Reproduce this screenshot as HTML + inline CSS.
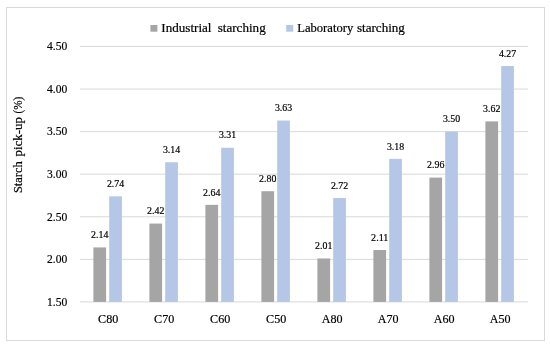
<!DOCTYPE html><html><head><meta charset="utf-8"><title>Starch pick-up</title>
<style>html,body{margin:0;padding:0;background:#fff}svg{display:block}text{font-family:"Liberation Serif","DejaVu Serif",serif;fill:#000}</style></head><body>
<svg width="550" height="347" viewBox="0 0 550 347">
<rect x="0" y="0" width="550" height="347" fill="#fff"/>
<rect x="6.5" y="7.5" width="538" height="333" fill="#fff" stroke="#d9d9d9" stroke-width="1"/>
<rect x="80" y="301.42" width="448" height="1" fill="#d9d9d9"/>
<text x="47.10" y="305.72" font-size="12.8" textLength="20.2" lengthAdjust="spacingAndGlyphs" stroke="#000" stroke-width="0.2">1.50</text>
<rect x="80" y="258.85" width="448" height="1" fill="#d9d9d9"/>
<text x="47.10" y="263.15" font-size="12.8" textLength="20.2" lengthAdjust="spacingAndGlyphs" stroke="#000" stroke-width="0.2">2.00</text>
<rect x="80" y="216.27" width="448" height="1" fill="#d9d9d9"/>
<text x="47.10" y="220.57" font-size="12.8" textLength="20.2" lengthAdjust="spacingAndGlyphs" stroke="#000" stroke-width="0.2">2.50</text>
<rect x="80" y="173.69" width="448" height="1" fill="#d9d9d9"/>
<text x="47.10" y="178.00" font-size="12.8" textLength="20.2" lengthAdjust="spacingAndGlyphs" stroke="#000" stroke-width="0.2">3.00</text>
<rect x="80" y="131.12" width="448" height="1" fill="#d9d9d9"/>
<text x="47.10" y="135.42" font-size="12.8" textLength="20.2" lengthAdjust="spacingAndGlyphs" stroke="#000" stroke-width="0.2">3.50</text>
<rect x="80" y="88.55" width="448" height="1" fill="#d9d9d9"/>
<text x="47.10" y="92.85" font-size="12.8" textLength="20.2" lengthAdjust="spacingAndGlyphs" stroke="#000" stroke-width="0.2">4.00</text>
<rect x="80" y="45.97" width="448" height="1" fill="#d9d9d9"/>
<text x="47.10" y="50.27" font-size="12.8" textLength="20.2" lengthAdjust="spacingAndGlyphs" stroke="#000" stroke-width="0.2">4.50</text>
<rect x="93.4" y="247.42" width="12.7" height="54.50" fill="#a5a5a5"/>
<rect x="109.2" y="196.33" width="12.7" height="105.59" fill="#b4c7e7"/>
<text x="91.10" y="238.00" font-size="10.6" textLength="17.3" lengthAdjust="spacingAndGlyphs" stroke="#000" stroke-width="0.2">2.14</text>
<text x="106.90" y="187.00" font-size="10.6" textLength="17.3" lengthAdjust="spacingAndGlyphs" stroke="#000" stroke-width="0.2">2.74</text>
<text x="98.10" y="323.10" font-size="13.3" textLength="20.2" lengthAdjust="spacingAndGlyphs" stroke="#000" stroke-width="0.2">C80</text>
<rect x="149.4" y="223.58" width="12.7" height="78.34" fill="#a5a5a5"/>
<rect x="165.2" y="162.27" width="12.7" height="139.65" fill="#b4c7e7"/>
<text x="147.10" y="214.00" font-size="10.6" textLength="17.3" lengthAdjust="spacingAndGlyphs" stroke="#000" stroke-width="0.2">2.42</text>
<text x="162.90" y="153.00" font-size="10.6" textLength="17.3" lengthAdjust="spacingAndGlyphs" stroke="#000" stroke-width="0.2">3.14</text>
<text x="154.10" y="323.10" font-size="13.3" textLength="20.2" lengthAdjust="spacingAndGlyphs" stroke="#000" stroke-width="0.2">C70</text>
<rect x="205.4" y="204.85" width="12.7" height="97.07" fill="#a5a5a5"/>
<rect x="221.2" y="147.80" width="12.7" height="154.12" fill="#b4c7e7"/>
<text x="203.10" y="196.00" font-size="10.6" textLength="17.3" lengthAdjust="spacingAndGlyphs" stroke="#000" stroke-width="0.2">2.64</text>
<text x="218.90" y="138.00" font-size="10.6" textLength="17.3" lengthAdjust="spacingAndGlyphs" stroke="#000" stroke-width="0.2">3.31</text>
<text x="210.10" y="323.10" font-size="13.3" textLength="20.2" lengthAdjust="spacingAndGlyphs" stroke="#000" stroke-width="0.2">C60</text>
<rect x="261.4" y="191.23" width="12.7" height="110.69" fill="#a5a5a5"/>
<rect x="277.2" y="120.55" width="12.7" height="181.37" fill="#b4c7e7"/>
<text x="259.10" y="182.00" font-size="10.6" textLength="17.3" lengthAdjust="spacingAndGlyphs" stroke="#000" stroke-width="0.2">2.80</text>
<text x="274.90" y="111.00" font-size="10.6" textLength="17.3" lengthAdjust="spacingAndGlyphs" stroke="#000" stroke-width="0.2">3.63</text>
<text x="266.10" y="323.10" font-size="13.3" textLength="20.2" lengthAdjust="spacingAndGlyphs" stroke="#000" stroke-width="0.2">C50</text>
<rect x="317.4" y="258.49" width="12.7" height="43.43" fill="#a5a5a5"/>
<rect x="333.2" y="198.04" width="12.7" height="103.88" fill="#b4c7e7"/>
<text x="315.10" y="249.00" font-size="10.6" textLength="17.3" lengthAdjust="spacingAndGlyphs" stroke="#000" stroke-width="0.2">2.01</text>
<text x="330.90" y="189.00" font-size="10.6" textLength="17.3" lengthAdjust="spacingAndGlyphs" stroke="#000" stroke-width="0.2">2.72</text>
<text x="321.80" y="323.10" font-size="13.3" textLength="20.8" lengthAdjust="spacingAndGlyphs" stroke="#000" stroke-width="0.2">A80</text>
<rect x="373.4" y="249.98" width="12.7" height="51.94" fill="#a5a5a5"/>
<rect x="389.2" y="158.87" width="12.7" height="143.05" fill="#b4c7e7"/>
<text x="371.10" y="241.00" font-size="10.6" textLength="17.3" lengthAdjust="spacingAndGlyphs" stroke="#000" stroke-width="0.2">2.11</text>
<text x="386.90" y="150.00" font-size="10.6" textLength="17.3" lengthAdjust="spacingAndGlyphs" stroke="#000" stroke-width="0.2">3.18</text>
<text x="377.80" y="323.10" font-size="13.3" textLength="20.8" lengthAdjust="spacingAndGlyphs" stroke="#000" stroke-width="0.2">A70</text>
<rect x="429.4" y="177.60" width="12.7" height="124.32" fill="#a5a5a5"/>
<rect x="445.2" y="131.62" width="12.7" height="170.30" fill="#b4c7e7"/>
<text x="427.10" y="168.00" font-size="10.6" textLength="17.3" lengthAdjust="spacingAndGlyphs" stroke="#000" stroke-width="0.2">2.96</text>
<text x="442.90" y="122.00" font-size="10.6" textLength="17.3" lengthAdjust="spacingAndGlyphs" stroke="#000" stroke-width="0.2">3.50</text>
<text x="433.80" y="323.10" font-size="13.3" textLength="20.8" lengthAdjust="spacingAndGlyphs" stroke="#000" stroke-width="0.2">A60</text>
<rect x="485.4" y="121.40" width="12.7" height="180.52" fill="#a5a5a5"/>
<rect x="501.2" y="66.05" width="12.7" height="235.87" fill="#b4c7e7"/>
<text x="483.10" y="112.00" font-size="10.6" textLength="17.3" lengthAdjust="spacingAndGlyphs" stroke="#000" stroke-width="0.2">3.62</text>
<text x="498.90" y="57.00" font-size="10.6" textLength="17.3" lengthAdjust="spacingAndGlyphs" stroke="#000" stroke-width="0.2">4.27</text>
<text x="489.80" y="323.10" font-size="13.3" textLength="20.8" lengthAdjust="spacingAndGlyphs" stroke="#000" stroke-width="0.2">A50</text>
<rect x="150.4" y="25" width="7" height="6.7" fill="#a5a5a5"/>
<text x="161.30" y="31.80" font-size="13.2" textLength="50.2" lengthAdjust="spacingAndGlyphs" stroke="#000" stroke-width="0.2">Industrial</text>
<text x="217.70" y="31.80" font-size="13.2" textLength="48.0" lengthAdjust="spacingAndGlyphs" stroke="#000" stroke-width="0.2">starching</text>
<rect x="286.2" y="25" width="7" height="6.7" fill="#b4c7e7"/>
<text x="297.20" y="31.80" font-size="13.2" textLength="56.0" lengthAdjust="spacingAndGlyphs" stroke="#000" stroke-width="0.2">Laboratory</text>
<text x="357.00" y="31.80" font-size="13.2" textLength="47.9" lengthAdjust="spacingAndGlyphs" stroke="#000" stroke-width="0.2">starching</text>
<g transform="translate(21.9,193.1) rotate(-90)">
<text x="0.00" y="0.00" font-size="13.2" textLength="31.9" lengthAdjust="spacingAndGlyphs" stroke="#000" stroke-width="0.2">Starch</text>
<text x="36.50" y="0.00" font-size="13.2" textLength="39.6" lengthAdjust="spacingAndGlyphs" stroke="#000" stroke-width="0.2">pick-up</text>
<text x="79.60" y="0.00" font-size="13.2" textLength="16.6" lengthAdjust="spacingAndGlyphs" stroke="#000" stroke-width="0.2">(%)</text>
</g>
</svg></body></html>
